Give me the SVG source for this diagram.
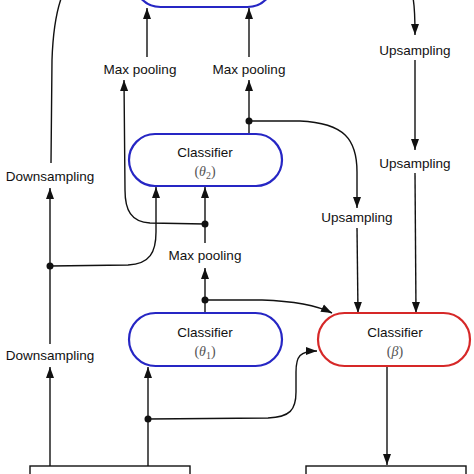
<svg xmlns="http://www.w3.org/2000/svg" width="474" height="474" viewBox="0 0 474 474">
<style>
.lbl{font-family:"Liberation Sans",Arial,sans-serif;font-size:13.5px;fill:#111;text-anchor:middle}
.math{font-family:"Liberation Serif","Times New Roman",serif;font-size:14px;fill:#555;text-anchor:middle}
.blue{fill:#fff;stroke:#2626c4;stroke-width:2.2}
.red{fill:#fff;stroke:#d62828;stroke-width:2.2}
.io{fill:#fff;stroke:#111;stroke-width:1.4}
.c{fill:none;stroke:#111;stroke-width:1.4}
.dot{fill:#111}
</style>
<defs>
<marker id="ah" markerUnits="userSpaceOnUse" markerWidth="12" markerHeight="12" viewBox="0 0 12 12" refX="11" refY="6" orient="auto">
<path d="M0,2 L11,6 L0,10 Z" fill="#111"/>
</marker>
</defs>
<rect width="474" height="474" fill="#fff"/>
<g id="connectors">
<path class="c" d="M50,466 L50,367" marker-end="url(#ah)"/>
<path class="c" d="M50,344 L50,188" marker-end="url(#ah)"/>
<path class="c" d="M51,163 L52,60 C53,30 56,12 62,-4"/>
<path class="c" d="M50,266 L128,265 C150,264 156,252 156,232 L156,187" marker-end="url(#ah)"/>
<path class="c" d="M148,466 L148,367" marker-end="url(#ah)"/>
<path class="c" d="M148,419 L268,418 C290,417 296,410 296,392 L296,372 C296,356 300,351 317,351" marker-end="url(#ah)"/>
<path class="c" d="M205,313 L205,268" marker-end="url(#ah)"/>
<path class="c" d="M205,300 L262,300 C292,301 316,305 332,313" marker-end="url(#ah)"/>
<path class="c" d="M205,243 L205,187" marker-end="url(#ah)"/>
<path class="c" d="M205,224 L150,223 C131,222 125,210 125,190 L124,80" marker-end="url(#ah)"/>
<path class="c" d="M249,134 L249,80" marker-end="url(#ah)"/>
<path class="c" d="M249,121 L300,121 C345,123 357,140 357,172 L357,208" marker-end="url(#ah)"/>
<path class="c" d="M357,228 L358,313" marker-end="url(#ah)"/>
<path class="c" d="M147,57 L147,8" marker-end="url(#ah)"/>
<path class="c" d="M249,57 L249,8" marker-end="url(#ah)"/>
<path class="c" d="M413,-2 C415,8 415,20 415,35" marker-end="url(#ah)"/>
<path class="c" d="M415,60 L415,150" marker-end="url(#ah)"/>
<path class="c" d="M415,173 L416,313" marker-end="url(#ah)"/>
<path class="c" d="M387,366 L387,465" marker-end="url(#ah)"/>
<circle class="dot" cx="50" cy="266" r="3.5"/>
<circle class="dot" cx="148" cy="419" r="3.5"/>
<circle class="dot" cx="205" cy="300" r="3.5"/>
<circle class="dot" cx="205" cy="224" r="3.5"/>
<circle class="dot" cx="249" cy="121" r="3.5"/>
</g>
<g id="labels">
<text class="lbl" x="140" y="74">Max pooling</text>
<text class="lbl" x="249" y="74">Max pooling</text>
<text class="lbl" x="205" y="260">Max pooling</text>
<text class="lbl" x="415" y="55">Upsampling</text>
<text class="lbl" x="415" y="168">Upsampling</text>
<text class="lbl" x="357" y="222">Upsampling</text>
<text class="lbl" x="50" y="181">Downsampling</text>
<text class="lbl" x="50" y="360">Downsampling</text>
</g>
<g id="classifier-theta3">
<rect class="blue" x="134" y="-46" width="140" height="53" rx="26.5"/>
</g>
<g id="classifier-theta2">
<rect class="blue" x="129" y="134" width="153" height="52" rx="26"/>
<text class="lbl" x="205" y="157">Classifier</text>
<text class="math" x="205" y="176">(<tspan font-style="italic">θ</tspan><tspan font-size="10" dy="3">2</tspan><tspan dy="-3">)</tspan></text>
</g>
<g id="classifier-theta1">
<rect class="blue" x="129" y="313" width="153" height="53" rx="26.5"/>
<text class="lbl" x="205" y="337">Classifier</text>
<text class="math" x="205" y="356">(<tspan font-style="italic">θ</tspan><tspan font-size="10" dy="3">1</tspan><tspan dy="-3">)</tspan></text>
</g>
<g id="classifier-beta">
<rect class="red" x="318" y="313" width="152" height="53" rx="26.5"/>
<text class="lbl" x="395" y="337">Classifier</text>
<text class="math" x="395" y="356">(<tspan font-style="italic">β</tspan>)</text>
</g>
<g id="input">
<rect class="io" x="30" y="466" width="160" height="20"/>
</g>
<g id="output">
<rect class="io" x="306" y="466" width="160" height="20"/>
</g>
</svg>
